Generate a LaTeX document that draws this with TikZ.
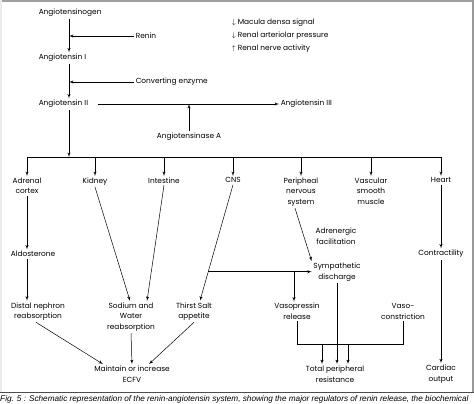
\documentclass[tikz,border=0pt]{standalone}
\usepackage{fontspec}
\setmainfont{Poppins}
\newfontfamily\capfont{Liberation Sans}
\usepackage{tikz}
\usetikzlibrary{calc}
\usetikzlibrary{arrows, arrows.meta}

\begin{document}
\begin{tikzpicture}[x=1pt, y=-1pt, line width=0.5pt, >=latex',
  main/.style = {inner sep=1.5pt, align=center, font=\fontsize{7.4}{10.6}\selectfont},
  organ/.style = {main, anchor=north}]
  \useasboundingbox (0,0) rectangle (474,404);
  %frame
  \fill[black!38] (0,0) rectangle (474,2.5);
  \fill[black!40] (471.5,0) rectangle (473.5,392);
  \fill[black!8] (0,0) rectangle (2,392);
  \draw[black!70, line width=1pt] (0,392) -- (474,392);

  %cascade
  \coordinate (spine) at (69,0);
  \node[main, anchor=west] (agen) at (37,13) {Angiotensinogen};
  \node[main, anchor=west] (renin) at (134,36) {Renin};
  \node[main, anchor=west] (ang1) at (37,58) {Angiotensin I};
  \node[main, anchor=west] (conv) at (134,82) {Converting enzyme};
  \node[main, anchor=west] (ang2) at (37,104) {Angiotensin II};
  \node[main, anchor=west] (ang3) at (279,104) {Angiotensin III};
  \node[main] (ase) at (189,137) {Angiotensinase A};
  \draw[->] (agen.south -| spine) -- (ang1.north -| spine);
  \draw[->] (renin.west) -- (renin.west -| spine);
  \draw[->] (ang1.south -| spine) -- (ang2.north -| spine);
  \draw[->] (conv.west) -- (conv.west -| spine);
  \draw[->] ([xshift=8pt]ang2.east) -- (ang3.west);
  \draw[->] (ase.north) -- (ase.north |- ang2);

  %legend
  \node[main, anchor=west] (leg1) at (230,23) {$\downarrow$ Macula densa signal};
  \node[main, anchor=west] (leg2) at (230,36) {$\downarrow$ Renal arteriolar pressure};
  \node[main, anchor=west] (leg3) at (230,49) {$\uparrow$ Renal nerve activity};

  %targets
  \coordinate (bus) at (69,157);
  \node[organ] (adr) at (27,176) {Adrenal\\cortex};
  \node[organ] (kidney) at (95,176) {Kidney};
  \node[organ] (intest) at (164,176) {Intestine};
  \node[organ] (cns) at (233,176) {CNS};
  \node[organ] (pns) at (301,176) {Peripheal\\nervous\\system};
  \node[organ] (vsm) at (371,176) {Vascular\\smooth\\muscle};
  \node[organ] (heart) at (441,176) {Heart};
  \draw[->] (ang2.south -| spine) -- (bus);
  \draw (adr.north |- bus) -- (heart.north |- bus);
  \foreach \o in {adr, kidney, intest, cns, pns, vsm, heart}
    \draw[->] (\o.north |- bus) -- (\o.north);

  %effects
  \node[main, anchor=west] (ald) at (9,254) {Aldosterone};
  \node[main] (distal) at (38,311.5) {Distal nephron\\reabsorption};
  \node[main] (sodium) at (131,317) {Sodium and\\Water\\reabsorption};
  \node[main] (thirst) at (194,311.5) {Thirst Salt\\appetite};
  \node[main] (adren) at (336,236) {Adrenergic\\facilitation};
  \node[main] (symp) at (337,272) {Sympathetic\\discharge};
  \node[main] (vasop) at (297,311.5) {Vasopressin\\release};
  \node[main] (vcon) at (403,311.5) {Vaso-\\constriction};
  \node[main] (contr) at (441,254) {Contractility};
  \node[main] (maint) at (132,374) {Maintain or increase\\ECFV};
  \node[main] (tpr) at (335,374) {Total peripheral\\resistance};
  \node[main] (cardiac) at (441,374) {Cardiac\\output};

  %adrenal column
  \draw[->] (adr.south) -- (adr.south |- ald.north);
  \draw[->] (adr.south |- ald.south) -- (adr.south |- distal.north);
  %salt and water
  \draw[->] (kidney.south) -- ([xshift=-1pt]sodium.north);
  \draw[->] (intest.south) -- ([xshift=16pt]sodium.north);
  \coordinate (cnsend) at ([xshift=6pt]thirst.north);
  \draw[->] (cns.south) -- (cnsend);
  \coordinate (cnsbr) at ($(cns.south)!0.75!(cnsend)$);
  \draw[->] (cnsbr) -- (cnsbr -| symp.west);
  \coordinate (vtop) at ([xshift=-3pt]vasop.north);
  \draw[->] (vtop |- cnsbr) -- (vtop);
  \draw[->] ([xshift=-6pt]pns.south) -- (symp.north west);
  \draw[->] ([xshift=-2pt]distal.south) -- ([xshift=-29pt]maint.north);
  \draw[->] (sodium.south) -- (maint.north);
  \draw[->] (thirst.south) -- ([xshift=17pt]maint.north);
  %resistance
  \coordinate (tbus) at (0,344);
  \coordinate (tl) at ([xshift=-13pt]tpr.north);
  \coordinate (tr) at ([xshift=13pt]tpr.north);
  \draw (vasop.south) -- (vasop.south |- tbus) -- (vcon.south |- tbus) -- (vcon.south);
  \draw[->] (tl |- tbus) -- (tl);
  \draw[->] (tr |- tbus) -- (tr);
  \draw[->] (symp.south) -- (symp.south |- tpr.north);
  %heart
  \draw[->] (heart.south) -- (contr.north);
  \draw[->] (contr.south) -- (cardiac.north);

  %caption
  \node[anchor=base west, inner sep=0pt, font=\capfont\itshape\fontsize{8.2}{10}\selectfont] (cap) at (0,401.5)
    {Fig. 5 : Schematic representation of the renin-angiotensin system, showing the major regulators of renin release, the biochemical};
\end{tikzpicture}
\end{document}
